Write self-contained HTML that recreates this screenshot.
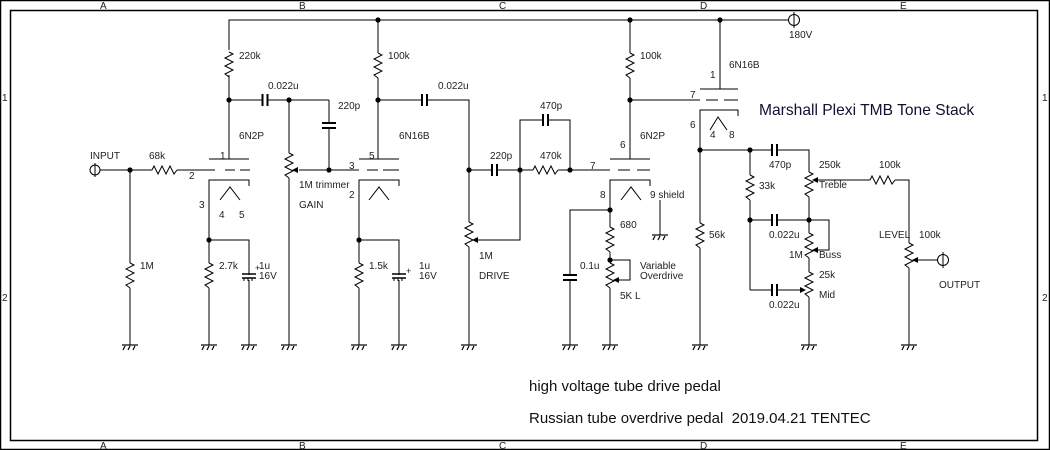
<!DOCTYPE html>
<html><head><meta charset="utf-8"><style>
html,body{margin:0;padding:0;background:#fff;}
svg{display:block;}
text{font-family:"Liberation Sans",sans-serif;font-size:10px;fill:#222;}
.t{font-size:15.6px;fill:#101030;}
.b{font-size:15px;fill:#101010;}
.s{font-size:9px;}
</style></head><body>
<svg width="1050" height="450" viewBox="0 0 1050 450" xmlns="http://www.w3.org/2000/svg">
<defs>
<path id="rv" d="M0,0 L4,2 L-4,6 L4,10 L-4,14 L4,18 L-4,22 L0,25" fill="none" stroke="#000" stroke-width="1"/>
<path id="rh" d="M0,0 L2,-4 L6,4 L10,-4 L14,4 L18,-4 L22,4 L25,0" fill="none" stroke="#000" stroke-width="1"/>
<g id="gnd" stroke="#000" stroke-width="1.2"><line x1="-8" y1="0" x2="8" y2="0"/><line x1="-5" y1="1" x2="-7" y2="5"/><line x1="0" y1="1" x2="-2" y2="5"/><line x1="5" y1="1" x2="3" y2="5"/></g>
<g id="cv" stroke="#000" stroke-width="2"><line x1="-7" y1="-2.5" x2="7" y2="-2.5"/><line x1="-7" y1="2.5" x2="7" y2="2.5"/></g>
<g id="ch" stroke="#000" stroke-width="2"><line x1="-2.5" y1="-6" x2="-2.5" y2="6"/><line x1="2.5" y1="-6" x2="2.5" y2="6"/></g>
<g id="ce" stroke="#000" stroke-width="1.5"><line x1="-7" y1="-2" x2="7" y2="-2"/><line x1="-7" y1="2" x2="7" y2="2"/><line x1="-5" y1="2" x2="-5" y2="5" stroke-width="1"/><line x1="-1" y1="2" x2="-1" y2="5" stroke-width="1"/><line x1="3" y1="2" x2="3" y2="5" stroke-width="1"/></g>
<circle id="d" r="2.6" fill="#000"/>
<path id="arl" d="M0,0 L6,-3 L6,3 Z" fill="#000"/>
</defs>
<rect x="0.5" y="0.5" width="1049" height="449" fill="none" stroke="#000" stroke-width="1.5"/>
<rect x="10.5" y="10.5" width="1027" height="430" fill="none" stroke="#000" stroke-width="1.5"/>
<g class="s">
<text x="100" y="9">A</text><text x="299" y="9">B</text><text x="499" y="9">C</text><text x="700" y="9">D</text><text x="900" y="9">E</text>
<text x="100" y="449">A</text><text x="299" y="449">B</text><text x="499" y="449">C</text><text x="700" y="449">D</text><text x="900" y="449">E</text>
<text x="2" y="101">1</text><text x="2" y="301">2</text><text x="1042" y="101">1</text><text x="1042" y="301">2</text>
</g>
<g stroke="#000" stroke-width="1" fill="none">
<polyline points="229,50 229,20 788,20"/>
<circle cx="794" cy="20" r="5.5"/><line x1="794" y1="12" x2="794" y2="28"/>
<line x1="229" y1="75" x2="229" y2="159"/>
<line x1="229" y1="100" x2="262" y2="100"/><line x1="267" y1="100" x2="329" y2="100"/>
<line x1="329" y1="100" x2="329" y2="123"/><line x1="329" y1="128" x2="329" y2="170"/>
<line x1="209" y1="159" x2="249" y2="159"/>
<circle cx="95" cy="170" r="5"/><line x1="95" y1="163" x2="95" y2="177"/>
<line x1="100" y1="170" x2="152" y2="170"/><line x1="177" y1="170" x2="215" y2="170"/>
<line x1="225" y1="170" x2="235" y2="170"/><line x1="240" y1="170" x2="250" y2="170"/>
<polyline points="209,240 209,180 249,180 249,186"/>
<polyline points="220,200 230,187 240,200"/>
<line x1="130" y1="170" x2="130" y2="263"/><line x1="130" y1="288" x2="130" y2="345"/>
<polyline points="209,240 249,240 249,275"/><line x1="249" y1="280" x2="249" y2="345"/>
<line x1="209" y1="240" x2="209" y2="263"/><line x1="209" y1="288" x2="209" y2="345"/>
<line x1="289" y1="100" x2="289" y2="153"/><line x1="289" y1="178" x2="289" y2="345"/>
<line x1="299" y1="170" x2="359" y2="170"/>
<line x1="378" y1="20" x2="378" y2="53"/><line x1="378" y1="78" x2="378" y2="159"/>
<line x1="378" y1="100" x2="422" y2="100"/><polyline points="427,100 469,100 469,222"/>
<line x1="359" y1="159" x2="399" y2="159"/>
<line x1="367" y1="170" x2="378" y2="170"/><line x1="383" y1="170" x2="399" y2="170"/>
<polyline points="359,240 359,180 399,180 399,186"/>
<polyline points="369,200 379,187 389,200"/>
<polyline points="359,240 399,240 399,275"/><line x1="399" y1="280" x2="399" y2="345"/>
<line x1="359" y1="240" x2="359" y2="263"/><line x1="359" y1="288" x2="359" y2="345"/>
<line x1="469" y1="247" x2="469" y2="345"/>
<line x1="469" y1="170" x2="492" y2="170"/><line x1="497" y1="170" x2="533" y2="170"/>
<polyline points="520,170 520,240 478,240"/>
<polyline points="520,170 520,120 543,120"/><polyline points="548,120 570,120 570,170"/>
<line x1="558" y1="170" x2="610" y2="170"/>
<line x1="630" y1="20" x2="630" y2="53"/><line x1="630" y1="78" x2="630" y2="159"/>
<line x1="610" y1="159" x2="650" y2="159"/>
<line x1="618" y1="170" x2="630" y2="170"/><line x1="637" y1="170" x2="650" y2="170"/>
<polyline points="610,227 610,180 650,180 650,186"/>
<polyline points="621,200 631,187 641,200"/>
<line x1="660" y1="200" x2="660" y2="235"/>
<polyline points="610,210 570,210 570,275"/><line x1="570" y1="280" x2="570" y2="345"/>
<line x1="610" y1="252" x2="610" y2="263"/><line x1="610" y1="288" x2="610" y2="345"/>
<polyline points="610,260 630,260 630,280 618,280"/>
<line x1="720" y1="20" x2="720" y2="89"/>
<line x1="700" y1="89" x2="738" y2="89"/>
<line x1="630" y1="100" x2="700" y2="100"/><line x1="706" y1="100" x2="718" y2="100"/><line x1="724" y1="100" x2="738" y2="100"/>
<polyline points="700,150 700,110 738,110 738,116"/>
<polyline points="710,130 718,117 727,130"/>
<line x1="700" y1="150" x2="700" y2="223"/><line x1="700" y1="248" x2="700" y2="345"/>
<line x1="700" y1="150" x2="772" y2="150"/><polyline points="777,150 809,150 809,172"/>
<line x1="750" y1="150" x2="750" y2="175"/><line x1="750" y1="200" x2="750" y2="290"/>
<line x1="809" y1="197" x2="809" y2="233"/>
<line x1="750" y1="220" x2="772" y2="220"/><polyline points="777,220 829,220 829,250 818,250"/>
<line x1="809" y1="258" x2="809" y2="272"/><line x1="809" y1="297" x2="809" y2="345"/>
<line x1="750" y1="290" x2="772" y2="290"/><line x1="777" y1="290" x2="800" y2="290"/>
<line x1="818" y1="180" x2="870" y2="180"/><polyline points="895,180 909,180 909,243"/>
<line x1="909" y1="268" x2="909" y2="345"/>
<line x1="918" y1="260" x2="938" y2="260"/>
<circle cx="943" cy="260" r="5.5"/><line x1="943" y1="252" x2="943" y2="268"/>
</g>
<use href="#rv" x="229" y="52"/><use href="#rv" x="378" y="53"/><use href="#rv" x="630" y="53"/>
<use href="#rh" x="152" y="170"/><use href="#rh" x="533" y="170"/><use href="#rh" x="870" y="180"/>
<use href="#rv" x="130" y="263"/><use href="#rv" x="209" y="263"/><use href="#rv" x="359" y="263"/>
<use href="#rv" x="289" y="153"/><use href="#rv" x="469" y="222"/>
<use href="#rv" x="610" y="227"/><use href="#rv" x="610" y="263"/>
<use href="#rv" x="700" y="223"/><use href="#rv" x="750" y="175"/>
<use href="#rv" x="809" y="172"/><use href="#rv" x="809" y="233"/><use href="#rv" x="809" y="272"/>
<use href="#rv" x="909" y="243"/>
<use href="#arl" x="292" y="170"/><use href="#arl" x="472" y="240"/><use href="#arl" x="613" y="280"/>
<use href="#arl" x="812" y="180"/><use href="#arl" x="812" y="250"/><use href="#arl" x="912" y="260"/>
<path d="M806,290 L800,287 L800,293 Z" fill="#000"/>
<use href="#ch" x="265" y="100"/><use href="#cv" x="329" y="125.5"/><use href="#ch" x="424.5" y="100"/>
<use href="#ch" x="494.5" y="170"/><use href="#ch" x="545.5" y="120"/>
<use href="#ch" x="774.5" y="150"/><use href="#ch" x="774.5" y="220"/><use href="#ch" x="774.5" y="290"/>
<use href="#cv" x="570" y="277.5"/>
<use href="#ce" x="249" y="276"/><use href="#ce" x="399" y="276"/>
<use href="#gnd" x="130" y="345"/><use href="#gnd" x="209" y="345"/><use href="#gnd" x="249" y="345"/><use href="#gnd" x="289" y="345"/>
<use href="#gnd" x="359" y="345"/><use href="#gnd" x="399" y="345"/><use href="#gnd" x="469" y="345"/>
<use href="#gnd" x="570" y="345"/><use href="#gnd" x="610" y="345"/><use href="#gnd" x="660" y="235"/>
<use href="#gnd" x="700" y="345"/><use href="#gnd" x="809" y="345"/><use href="#gnd" x="909" y="345"/>
<use href="#d" x="378" y="20"/><use href="#d" x="630" y="20"/><use href="#d" x="720" y="20"/>
<use href="#d" x="229" y="100"/><use href="#d" x="289" y="100"/><use href="#d" x="329" y="170"/>
<use href="#d" x="130" y="170"/><use href="#d" x="209" y="240"/><use href="#d" x="359" y="240"/>
<use href="#d" x="378" y="100"/><use href="#d" x="469" y="170"/><use href="#d" x="520" y="170"/><use href="#d" x="570" y="170"/>
<use href="#d" x="630" y="100"/><use href="#d" x="610" y="210"/><use href="#d" x="610" y="260"/>
<use href="#d" x="700" y="150"/><use href="#d" x="750" y="150"/><use href="#d" x="750" y="220"/><use href="#d" x="809" y="220"/>
<text x="239" y="59">220k</text><text x="268" y="89">0.022u</text><text x="338" y="109">220p</text>
<text x="239" y="139">6N2P</text><text x="90" y="159">INPUT</text><text x="149" y="159">68k</text>
<text x="220" y="159">1</text><text x="189" y="179">2</text><text x="199" y="208">3</text><text x="219" y="218">4</text><text x="239" y="218">5</text>
<text x="140" y="269">1M</text><text x="219" y="269">2.7k</text><text x="259" y="269">1u</text><text x="259" y="279">16V</text>
<text x="255" y="271" class="s">+</text>
<text x="299" y="188">1M trimmer</text><text x="299" y="208">GAIN</text>
<text x="388" y="59">100k</text><text x="438" y="89">0.022u</text><text x="399" y="139">6N16B</text>
<text x="369" y="159">5</text><text x="349" y="169">3</text><text x="349" y="198">2</text>
<text x="369" y="269">1.5k</text><text x="419" y="269">1u</text><text x="419" y="279">16V</text><text x="406" y="274" class="s">+</text>
<text x="479" y="259">1M</text><text x="479" y="279">DRIVE</text>
<text x="490" y="159">220p</text><text x="540" y="109">470p</text><text x="540" y="159">470k</text>
<text x="590" y="169">7</text><text x="620" y="148">6</text><text x="640" y="139">6N2P</text><text x="640" y="59">100k</text>
<text x="600" y="198">8</text><text x="650" y="198">9 shield</text><text x="620" y="228">680</text>
<text x="580" y="269">0.1u</text><text x="640" y="269">Variable</text><text x="640" y="279">Overdrive</text><text x="620" y="299">5K L</text>
<text x="789" y="38">180V</text><text x="729" y="68">6N16B</text><text x="710" y="78">1</text><text x="690" y="98">7</text>
<text x="690" y="128">6</text><text x="710" y="138">4</text><text x="729" y="138">8</text>
<text x="769" y="168">470p</text><text x="759" y="189">33k</text><text x="819" y="168">250k</text><text x="819" y="188">Treble</text>
<text x="879" y="168">100k</text><text x="709" y="238">56k</text><text x="769" y="238">0.022u</text>
<text x="789" y="258">1M</text><text x="819" y="258">Buss</text><text x="819" y="278">25k</text><text x="819" y="298">Mid</text>
<text x="769" y="308">0.022u</text><text x="879" y="238">LEVEL</text><text x="919" y="238">100k</text><text x="939" y="288">OUTPUT</text>
<text x="759" y="115" class="t">Marshall Plexi TMB Tone Stack</text>
<text x="529" y="391" class="b">high voltage tube drive pedal</text>
<text x="529" y="423" class="b" xml:space="preserve">Russian tube overdrive pedal  2019.04.21 TENTEC</text>
</svg>
</body></html>
